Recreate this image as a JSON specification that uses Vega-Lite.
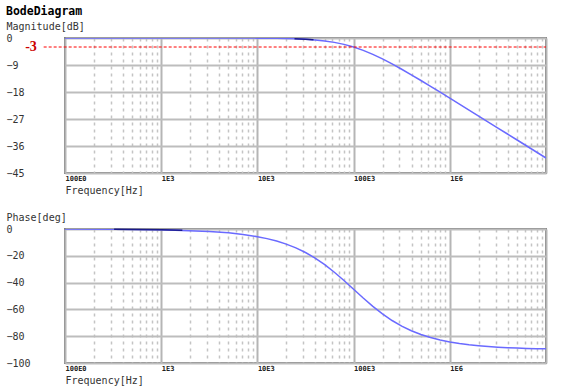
{
  "$schema": "https://vega.github.io/schema/vega-lite/v6.json",
  "autosize": {"type": "pad"},
  "padding": {"left": 5, "top": 4, "right": 19, "bottom": 3},
  "background": "white",
  "config": {
    "view": {"stroke": "#7f7f7f", "strokeWidth": 2},
    "font": "DejaVu Sans Mono",
    "concat": {"spacing": 56}
  },
  "datasets": {
    "bode": [
      {"f": 100, "mag": 0, "phase": -0.06},
      {"f": 316.2, "mag": 0, "phase": -0.18},
      {"f": 1000, "mag": -0.0004, "phase": -0.57},
      {"f": 3162, "mag": -0.004, "phase": -1.81},
      {"f": 5012, "mag": -0.011, "phase": -2.87},
      {"f": 7079, "mag": -0.022, "phase": -4.05},
      {"f": 10000, "mag": -0.043, "phase": -5.71},
      {"f": 12589, "mag": -0.068, "phase": -7.18},
      {"f": 15849, "mag": -0.108, "phase": -9.01},
      {"f": 19953, "mag": -0.17, "phase": -11.28},
      {"f": 25119, "mag": -0.266, "phase": -14.1},
      {"f": 31623, "mag": -0.414, "phase": -17.55},
      {"f": 39811, "mag": -0.639, "phase": -21.7},
      {"f": 50119, "mag": -0.973, "phase": -26.62},
      {"f": 63096, "mag": -1.455, "phase": -32.25},
      {"f": 79433, "mag": -2.125, "phase": -38.46},
      {"f": 100000, "mag": -3.01, "phase": -45},
      {"f": 125893, "mag": -4.124, "phase": -51.54},
      {"f": 158489, "mag": -5.455, "phase": -57.75},
      {"f": 199526, "mag": -6.973, "phase": -63.38},
      {"f": 251189, "mag": -8.639, "phase": -68.3},
      {"f": 316228, "mag": -10.414, "phase": -72.45},
      {"f": 398107, "mag": -12.266, "phase": -75.9},
      {"f": 501187, "mag": -14.169, "phase": -78.72},
      {"f": 630957, "mag": -16.108, "phase": -81.0},
      {"f": 794328, "mag": -18.068, "phase": -82.82},
      {"f": 1000000, "mag": -20.043, "phase": -84.29},
      {"f": 1258925, "mag": -22.027, "phase": -85.46},
      {"f": 1584893, "mag": -24.017, "phase": -86.39},
      {"f": 1995262, "mag": -26.011, "phase": -87.13},
      {"f": 2511886, "mag": -28.007, "phase": -87.72},
      {"f": 3162278, "mag": -30.004, "phase": -88.19},
      {"f": 3981072, "mag": -32.003, "phase": -88.56},
      {"f": 5011872, "mag": -34.002, "phase": -88.86},
      {"f": 6309573, "mag": -36.001, "phase": -89.09},
      {"f": 7943282, "mag": -38.001, "phase": -89.28},
      {"f": 10000000, "mag": -40.0, "phase": -89.43}
    ],
    "magDark": [
      {"f": 24300, "mag": -0.249},
      {"f": 31623, "mag": -0.414},
      {"f": 38300, "mag": -0.595}
    ],
    "phaseDark": [
      {"f": 324, "phase": -0.19},
      {"f": 1000, "phase": -0.57},
      {"f": 1660, "phase": -0.95}
    ],
    "ref": [
      {"f0": 60, "f1": 10000000, "db": -3, "fl": 51, "label": "-3"}
    ]
  },
  "bounds": "flush",
  "vconcat": [
    {
      "width": 481,
      "height": 135,
      "title": {
        "text": "BodeDiagram",
        "anchor": "start",
        "frame": "group",
        "dx": -59,
        "font": "DejaVu Sans Mono",
        "fontSize": 11.5,
        "fontWeight": "bold",
        "color": "#000000",
        "offset": 4
      },
      "resolve": {"axis": {"x": "independent"}},
      "layer": [
        {
          "data": {"name": "bode"},
          "mark": {"type": "line", "color": "#6a6aff", "strokeWidth": 1.5, "clip": true},
          "encoding": {
            "x": {
              "field": "f", "type": "quantitative",
              "scale": {"type": "log", "domain": [100, 10000000], "nice": false},
              "axis": {
                "orient": "bottom", "tickCount": 100,
                "values": [200,300,400,500,600,700,800,900,2000,3000,4000,5000,6000,7000,8000,9000,20000,30000,40000,50000,60000,70000,80000,90000,200000,300000,400000,500000,600000,700000,800000,900000,2000000,3000000,4000000,5000000,6000000,7000000,8000000,9000000],
                "grid": true, "gridDash": [3, 4], "gridColor": "#c4c4c4", "gridWidth": 1.5,
                "labels": false, "ticks": false, "domain": false, "title": null
              }
            },
            "y": {
              "field": "mag", "type": "quantitative",
              "scale": {"domain": [-45, 0], "nice": false, "zero": false},
              "axis": {
                "values": [0, -9, -18, -27, -36, -45], "tickCount": 20,
                "grid": true, "gridColor": "#bdbdbd", "gridWidth": 2,
                "domain": false, "ticks": false, "tickSize": 0,
                "labelAlign": "left", "labelBaseline": "middle", "labelPadding": 59,
                "labelOverlap": false, "labelFlush": false,
                "labelFont": "DejaVu Sans Mono", "labelFontSize": 10, "labelColor": "#333333",
                "title": "Magnitude[dB]", "titleAngle": 0, "titleAlign": "left",
                "titleBaseline": "alphabetic", "titleX": -59, "titleY": -9,
                "titleFont": "DejaVu Sans Mono", "titleFontSize": 10, "titleFontWeight": "normal", "titleColor": "#333333"
              }
            }
          }
        },
        {
          "data": {"name": "magDark"},
          "mark": {"type": "line", "color": "#1a1a8c", "strokeWidth": 1.5},
          "encoding": {
            "x": {
              "field": "f", "type": "quantitative",
              "axis": {
                "orient": "bottom", "tickCount": 20,
                "values": [100, 1000, 10000, 100000, 1000000, 10000000],
                "grid": true, "gridColor": "#b5b5b5", "gridWidth": 2,
                "ticks": false, "tickSize": 0, "domain": false,
                "labelExpr": "datum.value == 100 ? '100E0' : datum.value == 1000 ? '1E3' : datum.value == 10000 ? '10E3' : datum.value == 100000 ? '100E3' : datum.value == 1000000 ? '1E6' : ''",
                "labelAlign": "left", "labelBaseline": "top", "labelPadding": 1,
                "labelFont": "DejaVu Sans Mono", "labelFontSize": 7, "labelFontWeight": "bold",
                "labelColor": "#222222", "labelFlush": false, "labelOverlap": false,
                "title": "Frequency[Hz]", "titleAnchor": "start", "titleAlign": "left",
                "titleBaseline": "alphabetic", "titleX": 0, "titleY": 20,
                "titleFont": "DejaVu Sans Mono", "titleFontSize": 10, "titleFontWeight": "normal", "titleColor": "#333333"
              }
            },
            "y": {"field": "mag", "type": "quantitative"}
          }
        },
        {
          "data": {"name": "ref"},
          "mark": {"type": "rule", "color": "#ff0000", "strokeDash": [3, 2], "strokeWidth": 1},
          "encoding": {
            "x": {"field": "f0", "type": "quantitative", "axis": null},
            "x2": {"field": "f1"},
            "y": {"field": "db", "type": "quantitative"}
          }
        },
        {
          "data": {"name": "ref"},
          "mark": {"type": "text", "color": "#cc0000", "align": "right", "baseline": "middle", "font": "Liberation Serif", "fontSize": 14, "fontWeight": "bold", "dy": 0},
          "encoding": {
            "x": {"field": "fl", "type": "quantitative", "axis": null},
            "y": {"field": "db", "type": "quantitative"},
            "text": {"field": "label"}
          }
        }
      ]
    },
    {
      "width": 481,
      "height": 134,
      "resolve": {"axis": {"x": "independent"}},
      "layer": [
        {
          "data": {"name": "bode"},
          "mark": {"type": "line", "color": "#6a6aff", "strokeWidth": 1.5, "clip": true},
          "encoding": {
            "x": {
              "field": "f", "type": "quantitative",
              "scale": {"type": "log", "domain": [100, 10000000], "nice": false},
              "axis": {
                "orient": "bottom", "tickCount": 100,
                "values": [200,300,400,500,600,700,800,900,2000,3000,4000,5000,6000,7000,8000,9000,20000,30000,40000,50000,60000,70000,80000,90000,200000,300000,400000,500000,600000,700000,800000,900000,2000000,3000000,4000000,5000000,6000000,7000000,8000000,9000000],
                "grid": true, "gridDash": [3, 4], "gridColor": "#c4c4c4", "gridWidth": 1.5,
                "labels": false, "ticks": false, "domain": false, "title": null
              }
            },
            "y": {
              "field": "phase", "type": "quantitative",
              "scale": {"domain": [-100, 0], "nice": false, "zero": false},
              "axis": {
                "values": [0, -20, -40, -60, -80, -100], "tickCount": 20,
                "grid": true, "gridColor": "#bdbdbd", "gridWidth": 2,
                "domain": false, "ticks": false, "tickSize": 0,
                "labelAlign": "left", "labelBaseline": "middle", "labelPadding": 59,
                "labelOverlap": false, "labelFlush": false,
                "labelFont": "DejaVu Sans Mono", "labelFontSize": 10, "labelColor": "#333333",
                "title": "Phase[deg]", "titleAngle": 0, "titleAlign": "left",
                "titleBaseline": "alphabetic", "titleX": -59, "titleY": -9,
                "titleFont": "DejaVu Sans Mono", "titleFontSize": 10, "titleFontWeight": "normal", "titleColor": "#333333"
              }
            }
          }
        },
        {
          "data": {"name": "phaseDark"},
          "mark": {"type": "line", "color": "#1a1a8c", "strokeWidth": 1.5},
          "encoding": {
            "x": {
              "field": "f", "type": "quantitative",
              "axis": {
                "orient": "bottom", "tickCount": 20,
                "values": [100, 1000, 10000, 100000, 1000000, 10000000],
                "grid": true, "gridColor": "#b5b5b5", "gridWidth": 2,
                "ticks": false, "tickSize": 0, "domain": false,
                "labelExpr": "datum.value == 100 ? '100E0' : datum.value == 1000 ? '1E3' : datum.value == 10000 ? '10E3' : datum.value == 100000 ? '100E3' : datum.value == 1000000 ? '1E6' : ''",
                "labelAlign": "left", "labelBaseline": "top", "labelPadding": 1,
                "labelFont": "DejaVu Sans Mono", "labelFontSize": 7, "labelFontWeight": "bold",
                "labelColor": "#222222", "labelFlush": false, "labelOverlap": false,
                "title": "Frequency[Hz]", "titleAnchor": "start", "titleAlign": "left",
                "titleBaseline": "alphabetic", "titleX": 0, "titleY": 20,
                "titleFont": "DejaVu Sans Mono", "titleFontSize": 10, "titleFontWeight": "normal", "titleColor": "#333333"
              }
            },
            "y": {"field": "phase", "type": "quantitative"}
          }
        }
      ]
    }
  ]
}
